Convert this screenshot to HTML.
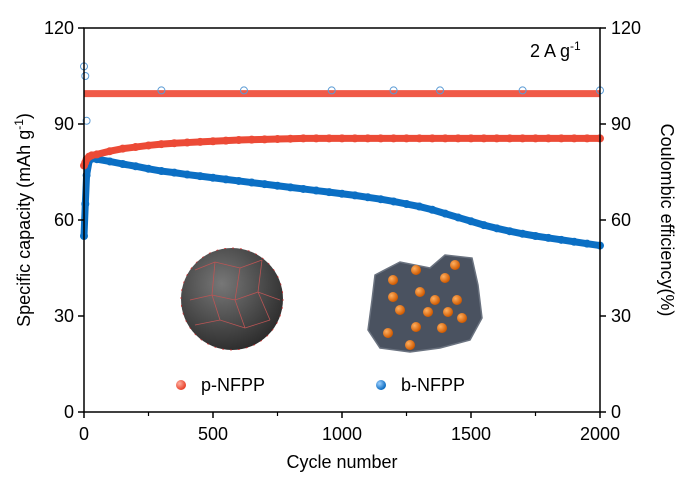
<!DOCTYPE html>
<html><head><meta charset="utf-8"><style>
body{margin:0;background:#fff}
svg{font-family:"Liberation Sans",Arial,sans-serif}
</style></head><body>
<svg id="c" width="685" height="485" viewBox="0 0 685 485">
<defs>
<radialGradient id="rg" cx="35%" cy="35%" r="65%"><stop offset="0" stop-color="#ffb0a0"/><stop offset="1" stop-color="#e8402a"/></radialGradient>
<radialGradient id="bg" cx="35%" cy="35%" r="65%"><stop offset="0" stop-color="#9cd0ff"/><stop offset="1" stop-color="#0a6ac0"/></radialGradient>
<radialGradient id="og" cx="35%" cy="35%" r="65%"><stop offset="0" stop-color="#ffb060"/><stop offset="1" stop-color="#d05a00"/></radialGradient>
<radialGradient id="sg" cx="40%" cy="35%" r="70%"><stop offset="0" stop-color="#777"/><stop offset="1" stop-color="#2a2a2a"/></radialGradient>
</defs>
<g id="plot"></g>
<g>
<circle cx="232" cy="299" r="51" fill="url(#sg)" stroke="#c33" stroke-width="0.8" stroke-dasharray="2 6"/>
<path d="M195 270 L215 262 L240 268 L262 260 M190 300 L212 295 L235 300 L258 292 L280 300 M195 325 L220 320 L245 328 L270 320 M215 262 L212 295 L220 320 M240 268 L235 300 L245 328 M262 260 L258 292 L270 320" stroke="#b55" stroke-width="0.8" fill="none"/>
</g>
<g>
<path d="M375 275 L400 262 L430 268 L445 255 L472 258 L478 285 L482 318 L470 340 L440 348 L410 352 L380 348 L368 330 L372 300 Z" fill="#4a5260" stroke="#6b7380" stroke-width="1.5"/>
<g id="dots"></g>
</g>
<text x="30" y="220" transform="rotate(-90 30 220)" font-size="18" text-anchor="middle">Specific capacity (mAh g<tspan dy="-7" font-size="12">-1</tspan><tspan dy="7">)</tspan></text>
<text x="661" y="220" transform="rotate(90 661 220)" font-size="18" text-anchor="middle">Coulombic efficiency(%)</text>
<text x="342" y="468" font-size="18" text-anchor="middle">Cycle number</text>
<text x="530" y="57" font-size="18">2 A g<tspan dy="-7" font-size="12">-1</tspan></text>
<g>
<circle cx="181" cy="385" r="5" fill="url(#rg)"/>
<text x="201" y="391" font-size="18">p-NFPP</text>
<circle cx="381" cy="385" r="5" fill="url(#bg)"/>
<text x="401" y="391" font-size="18">b-NFPP</text>
</g>
</svg>
<script>
const cycles=[0,5,10,20,30];for(let i=1;i<=40;i++)cycles.push(i*50);
const pCap=[77,78,79,79.8,80.2,80.5,81.5,82.3,82.8,83.3,83.7,84,84.2,84.4,84.6,84.8,85,85.1,85.2,85.3,85.4,85.5,85.5,85.5,85.5,85.5,85.5,85.5,85.5,85.5,85.5,85.5,85.5,85.5,85.5,85.5,85.5,85.5,85.5,85.5,85.5,85.5,85.5,85.5,85.5];
const bCap=[55,65,74,78.5,79.2,79,78.3,77.5,76.8,76,75.3,74.8,74.2,73.7,73.2,72.7,72.2,71.7,71.2,70.7,70.2,69.7,69.2,68.7,68.2,67.7,67.1,66.5,65.8,65,64.2,63.2,62,60.8,59.6,58.4,57.4,56.5,55.7,55,54.4,53.8,53.2,52.6,52];
const ceP=99.5,ceB=100;
const bOutX=[0,5,10,300,620,960,1200,1380,1700,2000];
const bOutY=[108,105,91,100.5,100.5,100.5,100.5,100.5,100.5,100.5];
const yTicks=[0,30,60,90,120],xTicks=[0,500,1000,1500,2000];
const X=v=>84+v*(516/2000),Y=v=>412-v*(384/120);
const NS='http://www.w3.org/2000/svg',g=document.getElementById('plot');
function el(t,a,p){const e=document.createElementNS(NS,t);for(const k in a)e.setAttribute(k,a[k]);(p||g).appendChild(e);return e;}
let e=el('line',{x1:X(0),x2:X(2000),y1:Y(ceB),y2:Y(ceB),stroke:'#5b9bd5','stroke-width':3});

e=el('line',{x1:X(0),x2:X(2000),y1:Y(ceP),y2:Y(ceP),stroke:'#f05a48','stroke-width':7});

bOutX.forEach((x,i)=>{const c=el('circle',{cx:X(x),cy:Y(bOutY[i]),r:3.5,fill:'none',stroke:'#5b9bd5','stroke-width':1});
});
function series(vals,col,name){
 const p=el('polyline',{points:vals.map((v,i)=>X(cycles[i])+','+Y(v)).join(' '),fill:'none',stroke:col,'stroke-width':7,'stroke-linejoin':'round'});
 
 vals.forEach((v,i)=>{const c=el('circle',{cx:X(cycles[i]),cy:Y(v),r:4,fill:col});
 });
}
series(bCap,'#0b6fc4','b-nfpp-capacity');
series(pCap,'#ec4a36','p-nfpp-capacity');
e=el('rect',{x:84,y:28,width:516,height:384,fill:'none',stroke:'#000','stroke-width':1.5});

yTicks.forEach(v=>{
 el('line',{x1:78,x2:84,y1:Y(v),y2:Y(v),stroke:'#000','stroke-width':1.5});
 el('line',{x1:600,x2:606,y1:Y(v),y2:Y(v),stroke:'#000','stroke-width':1.5});
 let t=el('text',{x:74,y:Y(v)+6,'font-size':18,'text-anchor':'end'});t.textContent=v;
 
 t=el('text',{x:611,y:Y(v)+6,'font-size':18});t.textContent=v;
 
});
xTicks.forEach(v=>{
 el('line',{x1:X(v),x2:X(v),y1:412,y2:418,stroke:'#000','stroke-width':1.5});
 let t=el('text',{x:X(v),y:440,'font-size':18,'text-anchor':'middle'});t.textContent=v;
 
});
for(let v=250;v<2000;v+=500)el('line',{x1:X(v),x2:X(v),y1:412,y2:416,stroke:'#000','stroke-width':1.2});
const dots=document.getElementById('dots');
[[393,280],[416,270],[445,278],[455,265],[393,297],[420,292],[435,300],[400,310],[428,312],[448,312],[462,318],[416,327],[442,328],[388,333],[410,345],[457,300]].forEach(([x,y])=>{
 const c=el('circle',{cx:x,cy:y,r:5,fill:'url(#og)'},dots);});
</script>
</body></html>
